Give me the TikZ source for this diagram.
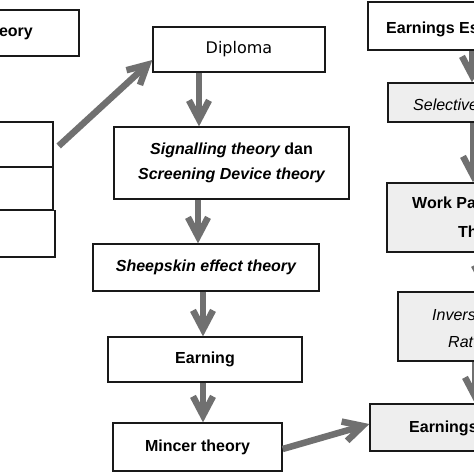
\documentclass[tikz,border=0pt]{standalone}
\usepackage{fontspec}
\setmainfont{Liberation Sans}
\newfontfamily\dejavu{DejaVu Sans}
\usetikzlibrary{arrows.meta}
\definecolor{arrgray}{RGB}{112,112,112}
\definecolor{boxfill}{RGB}{238,238,238}
\definecolor{boxline}{RGB}{25,25,25}
\begin{document}
\begin{tikzpicture}[x=1pt,y=-1pt,
  box/.style={draw=boxline, line width=1.3pt, fill=white, inner sep=0pt, align=center,
              font=\fontsize{16}{25}\selectfont},
  gbox/.style={box, fill=boxfill},
  txt/.style={inner sep=0pt, font=\fontsize{16}{25}\selectfont},
  arr/.style={draw=arrgray, line width=6.5pt,
              -{Straight Barb[length=19pt,width=20pt]}}]
\fill[white] (0,0) rectangle (474,474);
\useasboundingbox (0,0) rectangle (474,474);
\clip (0,0) rectangle (474,474);

% left column (cut off)
\node[box, minimum width=140pt, minimum height=46pt] (tl) at (9,33) {};
\node[txt, anchor=base east] (tlt) at (33,36) {\bfseries Theory};
\node[box, minimum width=100pt, minimum height=45pt] (l1) at (3,144.5) {};
\node[box, minimum width=100pt, minimum height=43pt] (l2) at (3,188.5) {};
\node[box, minimum width=102pt, minimum height=46.5pt] (l3) at (4,233.75) {};

% middle column
\node[box, minimum width=172pt, minimum height=45pt] (dip) at (239,49.5) {\dejavu Diploma};
\node[box, minimum width=235pt, minimum height=72pt] (sig) at (231.5,163)
  {\bfseries\itshape Signalling theory \upshape dan\\ \bfseries\itshape Screening Device theory};
\node[box, minimum width=226pt, minimum height=47pt] (shp) at (206,267.5)
  {\bfseries\itshape Sheepskin effect theory};
\node[box, minimum width=194pt, minimum height=45pt] (ern) at (205,359.5) {\bfseries Earning};
\node[box, minimum width=169pt, minimum height=48pt] (min) at (197.5,447) {\bfseries Mincer theory};

% right column (cut off)
\node[box, minimum width=192pt, minimum height=48pt] (es) at (464,26) {};
\node[txt, anchor=base west] (est) at (386,33) {\bfseries Earnings Es};
\node[gbox, minimum width=172pt, minimum height=39pt] (sel) at (474,102.5) {};
\node[txt, anchor=base west] (selt) at (413,110) {\itshape Selective};
\node[gbox, minimum width=173pt, minimum height=69pt] (wrk) at (473.5,217.5) {};
\node[txt, anchor=base west] (wrkt1) at (412,208) {\bfseries Work Pa};
\node[txt, anchor=base west] (wrkt2) at (458,237) {\bfseries Th};
\node[gbox, minimum width=162pt, minimum height=69pt] (inv) at (479,326.5) {};
\node[txt, anchor=base west] (invt1) at (432,320) {\itshape Invers};
\node[txt, anchor=base west] (invt2) at (448,347) {\itshape Rat};
\node[gbox, minimum width=190pt, minimum height=47pt] (er2) at (465,427.5) {};
\node[txt, anchor=base west] (er2t) at (409,432) {\bfseries Earnings};

% column coordinates for vertical arrows
\coordinate (c1) at (199,0);
\coordinate (c2) at (198,0);
\coordinate (c3) at (203,0);
\coordinate (r1) at (472,0);
\coordinate (r2) at (473,0);
\coordinate (r3) at (484,0);
\coordinate (r4) at (475,0);

% arrows
\draw[arr] ([xshift=5pt,yshift=-1.5pt]l1.east) -- ([yshift=-10.5pt]dip.west);
\draw[arr] (dip.south -| c1) -- (sig.north -| c1);
\draw[arr] (sig.south -| c2) -- (shp.north -| c2);
\draw[arr] (shp.south -| c3) -- (ern.north -| c3);
\draw[arr] (ern.south -| c3) -- (min.north -| c3);
\draw[arr] ([yshift=-2pt]min.east) -- ([yshift=3.5pt]er2.west);
\draw[arr] (es.south -| r1) -- (sel.north -| r1);
\draw[arr] (sel.south -| r2) -- (wrk.north -| r2);
\draw[arr] (wrk.south -| r3) -- (inv.north -| r3);
\draw[arr] (inv.south -| r4) -- (er2.north -| r4);
\end{tikzpicture}
\end{document}
